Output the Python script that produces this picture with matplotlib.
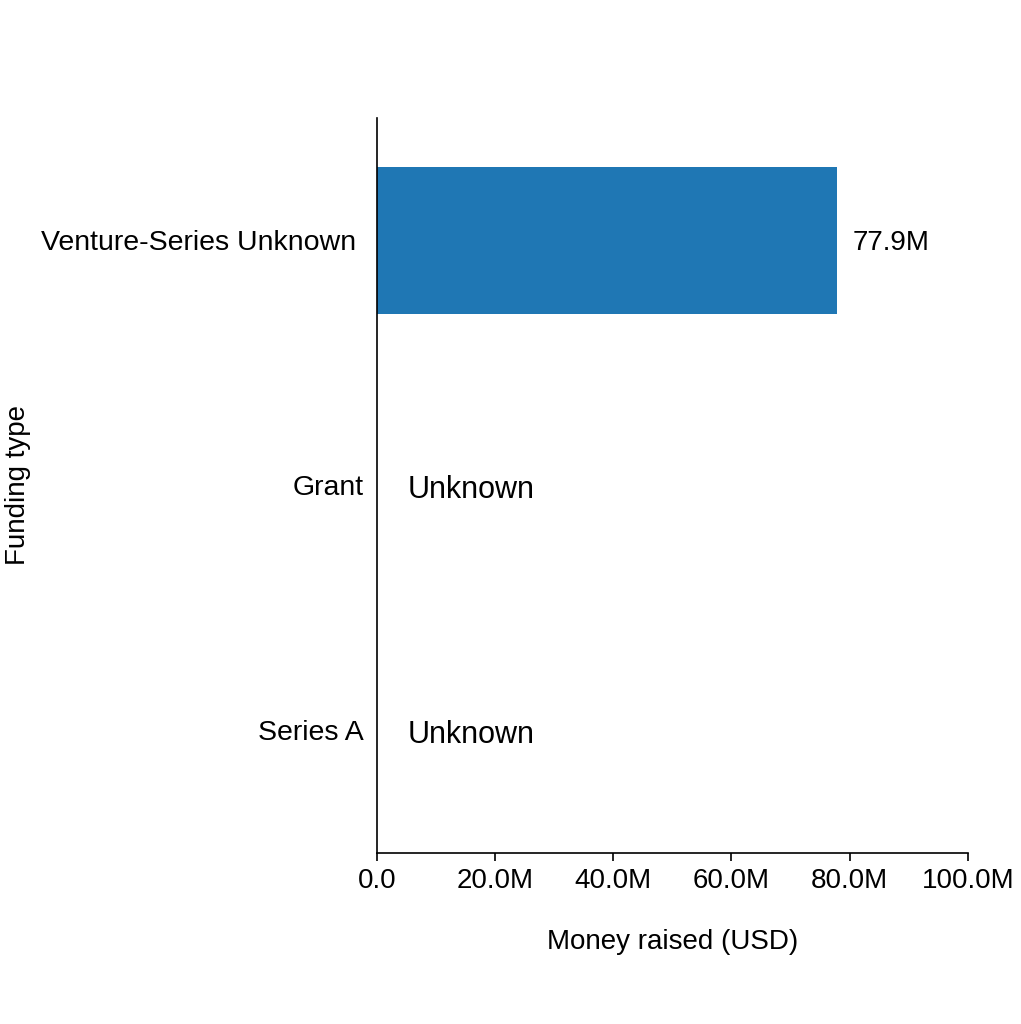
import matplotlib.pyplot as plt
from matplotlib.ticker import FuncFormatter

plt.rcParams['font.family'] = ['Liberation Sans', 'DejaVu Sans']

funding_types = ["Venture-Series Unknown ", "Grant", "Series A"]
money_raised = [77.9e6, None, None]
bar_labels = ["77.9M", "Unknown", "Unknown"]


def fmt_money(v, pos=None):
    if v == 0:
        return "0.0"
    return f"{v / 1e6:.1f}M"


fig = plt.figure(figsize=(10.21, 10.24), dpi=100)
ax = fig.add_axes([0.369, 0.167, 0.579, 0.718])

ypos = list(range(len(funding_types)))
values = [v if v is not None else 0 for v in money_raised]
ax.barh(ypos, values, height=0.6, color="#1f77b4")

for y, v, lab in zip(ypos, money_raised, bar_labels):
    if v is not None:
        ax.text(v + 2.6e6, y + 0.01, lab, va="center", ha="left", fontsize=20)
    else:
        ax.text(5.3e6, y + 0.02, lab, va="center", ha="left", fontsize=22)

ax.set_xlim(0, 100e6)
ax.set_ylim(2.5, -0.5)
ax.set_yticks(ypos)
ax.set_yticklabels(funding_types)
ax.xaxis.set_major_formatter(FuncFormatter(fmt_money))
ax.set_xticks([0, 20e6, 40e6, 60e6, 80e6, 100e6])

ax.spines["top"].set_visible(False)
ax.spines["right"].set_visible(False)
for s in ("left", "bottom"):
    ax.spines[s].set_linewidth(1.2)

ax.tick_params(axis="y", length=0, pad=9, labelsize=20.5)
ax.tick_params(axis="x", length=6, width=1.2, pad=5, labelsize=20)

ax.set_xlabel("Money raised (USD)", fontsize=20)
ax.set_ylabel("Funding type", fontsize=20)
ax.xaxis.set_label_coords(0.5, -0.103)
ax.yaxis.set_label_coords(-0.585, 0.5)

fig.savefig("out.png", dpi=100)
